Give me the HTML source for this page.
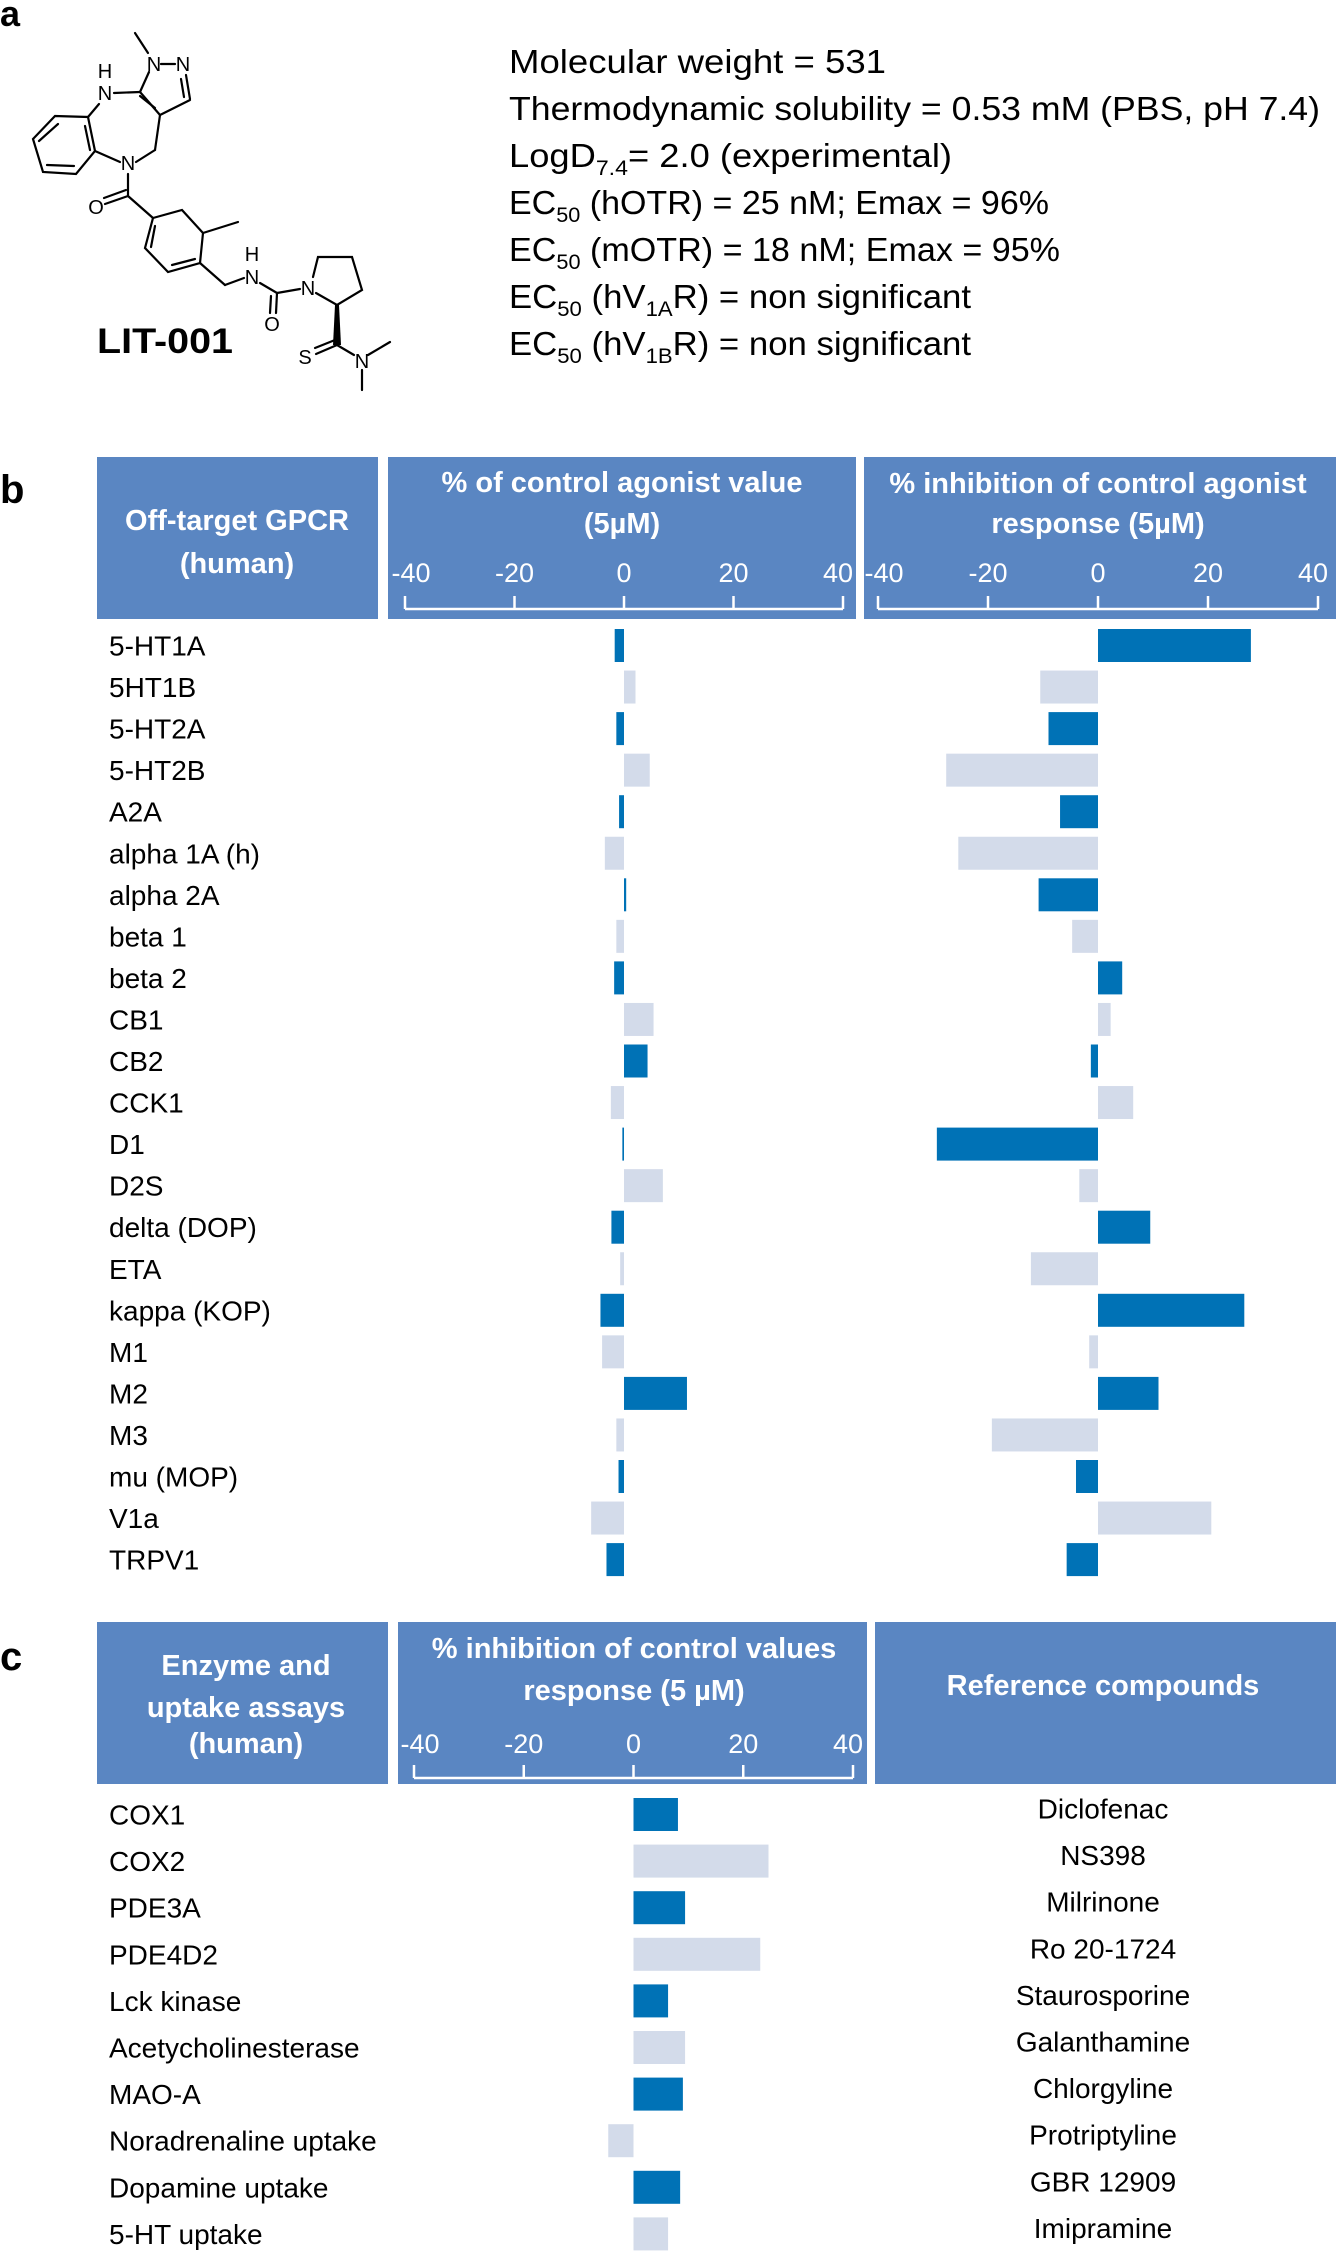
<!DOCTYPE html>
<html><head><meta charset="utf-8"><style>
html,body{margin:0;padding:0;background:#fff;}
svg{display:block;font-family:"Liberation Sans",Arial,sans-serif;}
</style></head><body>
<svg id="fig" width="1336" height="2252" viewBox="0 0 1336 2252" xmlns="http://www.w3.org/2000/svg">
<!-- Panel a -->
<text x="0" y="26" font-size="36" font-weight="bold">a</text>
<g stroke="#000" stroke-width="2.2" fill="none" stroke-linecap="round">
  <line x1="135" y1="33" x2="148" y2="53"/>
  <line x1="161" y1="64" x2="175" y2="64"/>
  <line x1="186" y1="75" x2="190" y2="99"/>
  <line x1="181" y1="79" x2="184" y2="97"/>
  <line x1="190" y1="100" x2="160" y2="115"/>
  <line x1="160" y1="115" x2="140" y2="92"/>
  <line x1="155" y1="108" x2="140" y2="96"/>
  <line x1="140" y1="92" x2="149" y2="72"/>
  <line x1="140" y1="92" x2="114" y2="93"/>
  <line x1="99" y1="104" x2="88" y2="117"/>
  <polygon points="55,116 88,117 95,151 76,174 43,172 33,139"/>
  <line x1="58" y1="124" x2="39" y2="141"/>
  <line x1="85" y1="126" x2="90" y2="150"/>
  <line x1="74" y1="166" x2="47" y2="165"/>
  <line x1="95" y1="151" x2="120" y2="162"/>
  <line x1="136" y1="162" x2="155" y2="150"/>
  <line x1="155" y1="150" x2="160" y2="115"/>
  <line x1="128" y1="174" x2="128" y2="195"/>
  <line x1="128" y1="196" x2="105" y2="204"/>
  <line x1="126" y1="190" x2="104" y2="198"/>
  <line x1="128" y1="196" x2="153" y2="218"/>
  <polygon points="153,218 182,210 203,233 200,263 168,272 145,248"/>
  <line x1="155" y1="226" x2="151" y2="247"/>
  <line x1="172" y1="265" x2="195" y2="259"/>
  <line x1="203" y1="233" x2="238" y2="222"/>
  <line x1="200" y1="263" x2="225" y2="285"/>
  <line x1="225" y1="285" x2="244" y2="278"/>
  <line x1="260" y1="283" x2="277" y2="293"/>
  <line x1="277" y1="293" x2="300" y2="289"/>
  <line x1="277" y1="293" x2="276" y2="313"/>
  <line x1="271" y1="296" x2="270" y2="313"/>
  <polyline points="313,277 318,257 352,257 362,290 337,305 316,293"/>
  <line x1="337" y1="345" x2="316" y2="354"/>
  <line x1="335" y1="340" x2="315" y2="348"/>
  <line x1="337" y1="345" x2="354" y2="355"/>
  <line x1="368" y1="355" x2="390" y2="342"/>
  <line x1="362" y1="370" x2="362" y2="390"/>
</g>
<polygon points="335,305 339,305 341,345 333,345" fill="#000"/>
<g font-size="20" fill="#000" text-anchor="middle">
  <text x="154" y="71">N</text><text x="183" y="71">N</text>
  <text x="105" y="100">N</text><text x="105" y="78">H</text>
  <text x="128" y="170">N</text><text x="96" y="214">O</text>
  <text x="252" y="284">N</text><text x="252" y="261">H</text>
  <text x="272" y="331">O</text><text x="308" y="295">N</text>
  <text x="305" y="364">S</text><text x="362" y="368">N</text>
</g>
<text x="97" y="353" font-size="35" font-weight="bold" textLength="136" lengthAdjust="spacingAndGlyphs">LIT-001</text>
<g font-size="33" fill="#000">
  <text x="509" y="73" textLength="377" lengthAdjust="spacingAndGlyphs">Molecular weight = 531</text>
  <text x="509" y="120" textLength="811" lengthAdjust="spacingAndGlyphs">Thermodynamic solubility = 0.53 mM (PBS, pH 7.4)</text>
  <text x="509" y="167" textLength="443" lengthAdjust="spacingAndGlyphs">LogD<tspan font-size="21" dy="8">7.4</tspan><tspan dy="-8">= 2.0 (experimental)</tspan></text>
  <text x="509" y="214" textLength="540" lengthAdjust="spacingAndGlyphs">EC<tspan font-size="21" dy="8">50</tspan><tspan dy="-8"> (hOTR) = 25 nM; Emax = 96%</tspan></text>
  <text x="509" y="261" textLength="551" lengthAdjust="spacingAndGlyphs">EC<tspan font-size="21" dy="8">50</tspan><tspan dy="-8"> (mOTR) = 18 nM; Emax = 95%</tspan></text>
  <text x="509" y="308" textLength="462" lengthAdjust="spacingAndGlyphs">EC<tspan font-size="21" dy="8">50</tspan><tspan dy="-8"> (hV</tspan><tspan font-size="21" dy="8">1A</tspan><tspan dy="-8">R) = non significant</tspan></text>
  <text x="509" y="355" textLength="462" lengthAdjust="spacingAndGlyphs">EC<tspan font-size="21" dy="8">50</tspan><tspan dy="-8"> (hV</tspan><tspan font-size="21" dy="8">1B</tspan><tspan dy="-8">R) = non significant</tspan></text>
</g>

<!-- Panel b -->
<text x="0" y="503" font-size="40" font-weight="bold">b</text>
<rect x="97" y="457" width="281" height="162" fill="#5a86c2"/>
<rect x="388" y="457" width="468" height="162" fill="#5a86c2"/>
<rect x="864" y="457" width="472" height="162" fill="#5a86c2"/>
<g fill="#fff" font-weight="bold" font-size="29" text-anchor="middle">
  <text x="237" y="530">Off-target GPCR</text>
  <text x="237" y="573">(human)</text>
  <text x="622" y="492">% of control agonist value</text>
  <text x="622" y="533">(5µM)</text>
  <text x="1098" y="493">% inhibition of control agonist</text>
  <text x="1098" y="533">response (5µM)</text>
</g>
<g id="b-axes"></g>
<g id="b-labels"></g>
<g id="b-bars"></g>

<!-- Panel c -->
<text x="0" y="1670" font-size="40" font-weight="bold">c</text>
<rect x="97" y="1622" width="291" height="162" fill="#5a86c2"/>
<rect x="398" y="1622" width="469" height="162" fill="#5a86c2"/>
<rect x="875" y="1622" width="461" height="162" fill="#5a86c2"/>
<g fill="#fff" font-weight="bold" font-size="29" text-anchor="middle">
  <text x="246" y="1675">Enzyme and</text>
  <text x="246" y="1717">uptake assays</text>
  <text x="246" y="1753">(human)</text>
  <text x="634" y="1658">% inhibition of control values</text>
  <text x="634" y="1700">response (5 µM)</text>
  <text x="1103" y="1695">Reference compounds</text>
</g>
<g id="c-axes"></g>
<g id="c-labels"></g>
<g id="c-bars"></g>
</svg>
<script>
const gpcrNames = ["5-HT1A","5HT1B","5-HT2A","5-HT2B","A2A","alpha 1A (h)","alpha 2A","beta 1","beta 2","CB1","CB2","CCK1","D1","D2S","delta  (DOP)","ETA","kappa (KOP)","M1","M2","M3","mu  (MOP)","V1a","TRPV1"];
const agonistValues = [-1.7,2.1,-1.4,4.7,-0.9,-3.5,0.4,-1.4,-1.8,5.4,4.3,-2.4,-0.3,7.1,-2.3,-0.7,-4.3,-4.0,11.5,-1.4,-1.0,-6.0,-3.2];
const antagonistValues = [27.8,-10.5,-9.0,-27.6,-6.9,-25.4,-10.8,-4.7,4.4,2.3,-1.3,6.4,-29.3,-3.4,9.5,-12.2,26.6,-1.6,11.0,-19.3,-4.0,20.6,-5.7];
const agonistHighlight = [1,0,1,0,1,0,1,0,1,0,1,0,1,0,1,0,1,0,1,0,1,0,1];
const antagonistHighlight = [1,0,1,0,1,0,1,0,1,0,1,0,1,0,1,0,1,0,1,0,1,0,1];
const enzymeNames = ["COX1","COX2","PDE3A","PDE4D2","Lck kinase","Acetycholinesterase","MAO-A","Noradrenaline uptake","Dopamine uptake","5-HT uptake"];
const enzymeValues = [8.1,24.6,9.4,23.1,6.3,9.4,9.0,-4.6,8.5,6.3];
const enzymeHighlight = [1,0,1,0,1,0,1,0,1,0];
const referenceCompounds = ["Diclofenac","NS398","Milrinone","Ro 20-1724","Staurosporine","Galanthamine","Chlorgyline","Protriptyline","GBR 12909","Imipramine"];
const tickValues = [-40,-20,0,20,40];
const tickLabels = ["-40","-20","0","20","40"];

const NS = "http://www.w3.org/2000/svg";
const DARK = "#0072b6", LIGHT = "#d3dbea";
function mk(tag, attrs, parent){const e=document.createElementNS(NS,tag);for(const k in attrs)e.setAttribute(k,attrs[k]);parent.appendChild(e);return e;}
function scaleFactory(x0, x1){return v => x0 + (v + 40) / 80 * (x1 - x0);}
const xB1 = scaleFactory(405, 843);
const xB2 = scaleFactory(878, 1318);
const xC = scaleFactory(414, 853);

function drawAxis(parent, sx, yLine, yLabel, name){
  const ln = mk("line",{x1:sx(-40),x2:sx(40),y1:yLine,y2:yLine,stroke:"#fff","stroke-width":2.5},parent);
  
  
  tickValues.forEach((v,i)=>{
    const t = mk("line",{x1:sx(v),x2:sx(v),y1:yLine-13,y2:yLine,stroke:"#fff","stroke-width":2.5},parent);
    
    
    const off = i === 0 ? 6 : (i === tickValues.length - 1 ? -5 : 0);
    const lb = mk("text",{x:sx(v)+off,y:yLabel,"text-anchor":"middle","font-size":27,fill:"#fff"},parent);
    lb.textContent = tickLabels[i];
    
    
  });
}
drawAxis(document.getElementById("b-axes"), xB1, 609, 582, "agonist-axis");
drawAxis(document.getElementById("b-axes"), xB2, 609, 582, "antagonist-axis");
drawAxis(document.getElementById("c-axes"), xC, 1778, 1753, "inhibition-axis");

function bar(parent, sx, v, top, h, hl){
  const a = sx(0), b = sx(v);
  const r = mk("rect",{x:Math.min(a,b),y:top,width:Math.max(Math.abs(b-a),1.5),height:h,fill:hl?DARK:LIGHT},parent);
  return r;
}
const bBars = document.getElementById("b-bars"), bLab = document.getElementById("b-labels");
const bTop = 629, bPitch = 41.55, bH = 33;
gpcrNames.forEach((n,i)=>{
  const top = bTop + i*bPitch;
  const t = mk("text",{x:109,y:top+bH/2+10,"font-size":28,fill:"#000"},bLab);
  t.textContent = n;
  
  
  const r1 = bar(bBars, xB1, agonistValues[i], top, bH, agonistHighlight[i]);
  
  
  const r2 = bar(bBars, xB2, antagonistValues[i], top, bH, antagonistHighlight[i]);
  
  
});
const cBars = document.getElementById("c-bars"), cLab = document.getElementById("c-labels");
const cTop = 1798, cPitch = 46.6, cH = 33;
enzymeNames.forEach((n,i)=>{
  const top = cTop + i*cPitch;
  const t = mk("text",{x:109,y:top+bH/2+10,"font-size":28,fill:"#000"},cLab);
  t.textContent = n;
  
  
  const rc = mk("text",{x:1103,y:top+cH/2+4,"font-size":28,fill:"#000","text-anchor":"middle"},cLab);
  rc.textContent = referenceCompounds[i];
  
  
  const r = bar(cBars, xC, enzymeValues[i], top, cH, enzymeHighlight[i]);
  
  
});
</script>
</body></html>
